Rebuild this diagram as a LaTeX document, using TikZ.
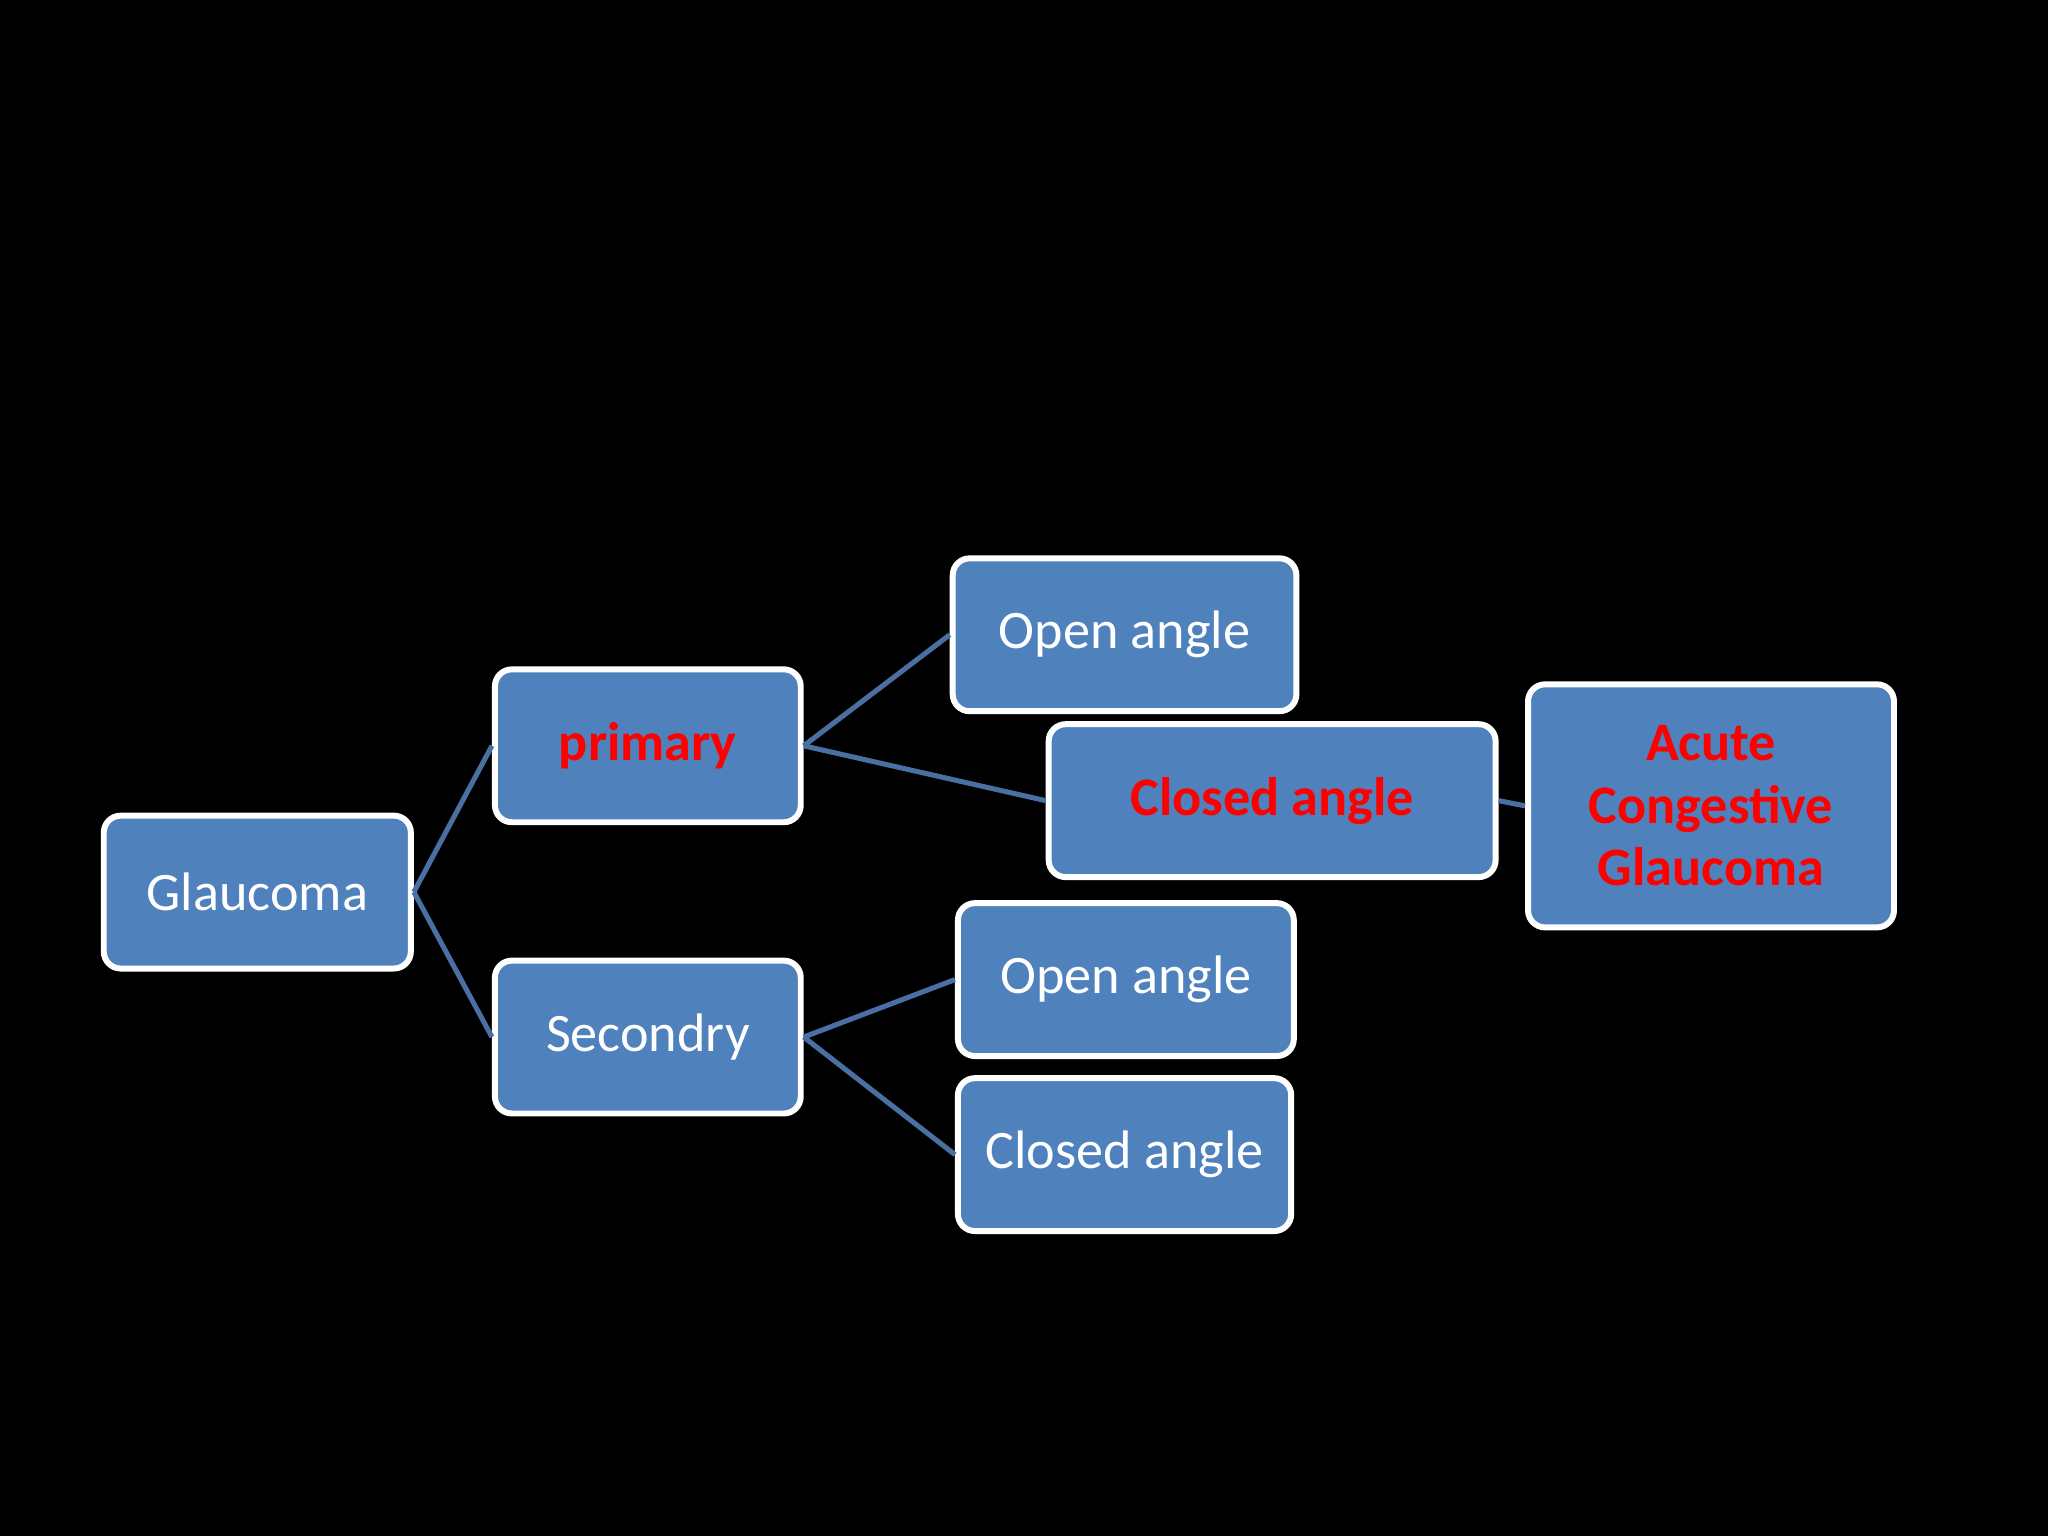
\documentclass[tikz,border=0pt]{standalone}
\usepackage{fontspec}
\setmainfont{Carlito}
\begin{document}
\begin{tikzpicture}[x=0.01cm,y=-0.01cm,
 box/.style={draw=white,line width=1.3pt,fill={rgb,255:red,79;green,129;blue,189},rounded corners=0.13cm,inner sep=0pt,align=center,font=\fontsize{11.8pt}{14pt}\selectfont,text=white},
 red/.style={text={rgb,255:red,255;green,0;blue,0},font=\fontsize{11.8pt}{13.6pt}\selectfont\bfseries},
 link/.style={draw={rgb,255:red,74;green,112;blue,163},line width=1.1pt}]
\fill[black] (0,0) rectangle (1568,1176);
\useasboundingbox (0,0) rectangle (1568,1176);
\node[box,minimum width=2.35cm,minimum height=1.17cm] (g) at (197,683) {Glaucoma};
\node[box,red,minimum width=2.34cm,minimum height=1.17cm] (p) at (496,571) {primary};
\node[box,minimum width=2.34cm,minimum height=1.17cm] (s) at (496,794) {Secondry};
\node[box,minimum width=2.63cm,minimum height=1.17cm] (o1) at (861,486) {Open angle};
\node[box,red,minimum width=3.42cm,minimum height=1.17cm] (c1) at (974,613) {Closed angle};
\node[box,red,minimum width=2.8cm,minimum height=1.86cm] (a) at (1310,617) {Acute\\Congestive\\Glaucoma};
\node[box,minimum width=2.57cm,minimum height=1.17cm] (o2) at (862,750) {Open angle};
\node[box,minimum width=2.55cm,minimum height=1.17cm] (c2) at (861,884) {Closed angle};
\draw[link] (g.east) -- (p.west);
\draw[link] (g.east) -- (s.west);
\draw[link] (p.east) -- (o1.west);
\draw[link] (p.east) -- (c1.west);
\draw[link] (c1.east) -- (a.west);
\draw[link] (s.east) -- (o2.west);
\draw[link] (s.east) -- (c2.west);
\end{tikzpicture}
\end{document}
